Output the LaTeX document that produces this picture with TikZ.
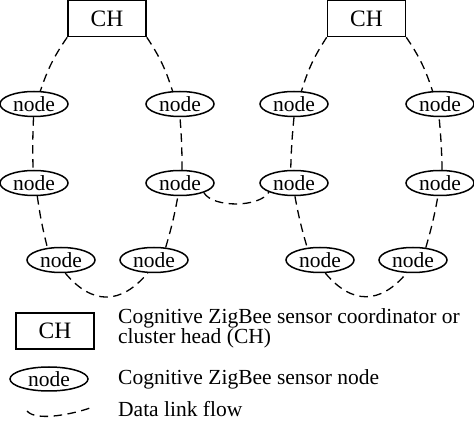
\documentclass[tikz,border=0pt]{standalone}
\usepackage{fontspec}
\setmainfont{Liberation Serif}
\usetikzlibrary{shapes.geometric}
\begin{document}
\begin{tikzpicture}[x=1pt,y=1pt,
 chbox/.style={draw, line width=1.6pt, minimum width=78pt, minimum height=36pt, inner sep=0pt, font=\fontsize{23.5}{24}\selectfont},
 sensor/.style={draw, ellipse, line width=1.5pt, minimum width=68pt, minimum height=25pt, inner sep=0pt, font=\fontsize{21.5}{22}\selectfont},
 link/.style={line width=1.3pt, dash pattern=on 8.5pt off 5.5pt},
 legtext/.style={anchor=base west, inner sep=0pt, font=\fontsize{21.5}{22}\selectfont}]
\useasboundingbox (0,0) rectangle (474,423);
% cluster heads
\node[chbox] (ch1) at (107,404.5) {CH};
\node[chbox] (ch2) at (366.5,404.5) {CH};
% sensor nodes
\node[sensor] (a1) at (34,319) {node};
\node[sensor] (a2) at (180,319) {node};
\node[sensor] (a3) at (294,319) {node};
\node[sensor] (a4) at (440,319) {node};
\node[sensor] (b1) at (34,240) {node};
\node[sensor] (b2) at (180,240) {node};
\node[sensor] (b3) at (294,240) {node};
\node[sensor] (b4) at (440,240) {node};
\node[sensor] (c1) at (61,163) {node};
\node[sensor] (c2) at (154,163) {node};
\node[sensor] (c3) at (320,163) {node};
\node[sensor] (c4) at (413,163) {node};
% left cluster links
\draw[link] (ch1.south west) to[bend right=8] (a1.64);
\draw[link] (ch1.south east) to[bend left=8] (a2.120);
\draw[link] (a1.-92) to[bend right=2] (b1.94);
\draw[link] (b1.-76) to[bend right=3] (c1.138);
\draw[link] (c1.-72) to[out=-50,in=-130,looseness=1.3] (c2.-116);
\draw[link] (c2.47) to[bend right=3] (b2.-99);
\draw[link] (b2.81) to[bend right=2] (a2.-90);
\draw[link] (b2.-22) to[out=-60,in=-120,looseness=0.7] (b3.-160);
% right cluster links
\draw[link] (ch2.south west) to[bend right=8] (a3.60);
\draw[link] (ch2.south east) to[bend left=8] (a4.120);
\draw[link] (a3.-90) to[bend right=2] (b3.104);
\draw[link] (b3.-86) to[bend right=3] (c3.136);
\draw[link] (c3.-68) to[out=-50,in=-130,looseness=1.3] (c4.-116);
\draw[link] (c4.44) to[bend right=3] (b4.-99);
\draw[link] (b4.81) to[bend right=2] (a4.-94);
% legend
\node[chbox] (lch) at (55,92) {CH};
\node[legtext] (t1) at (118,99) {Cognitive ZigBee sensor coordinator or};
\node[legtext] (t2) at (118,79) {cluster head (CH)};
\node[sensor, minimum width=78pt, minimum height=24pt] (lnode) at (49,44) {node};
\node[legtext] (t3) at (118,38) {Cognitive ZigBee sensor node};
\coordinate (l1) at (27,12);
\coordinate (l2) at (90,15);
\draw[link] (l1) to[out=-50,in=-160,looseness=0.6] (l2);
\node[legtext] (t4) at (118,6) {Data link flow};
\end{tikzpicture}
\end{document}
